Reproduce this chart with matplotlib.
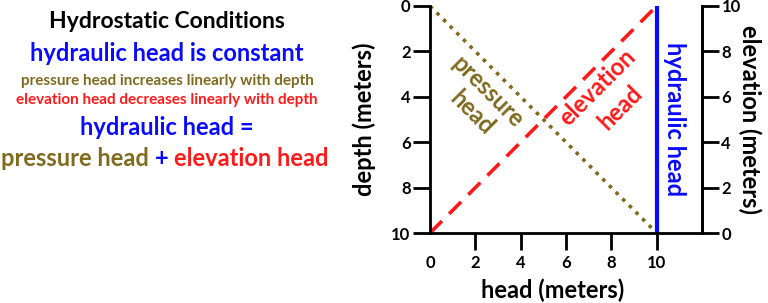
import matplotlib as mpl
mpl.use('Agg')
import matplotlib.pyplot as plt

plt.rcParams['font.family'] = ['Lato', 'DejaVu Sans']
plt.rcParams['font.weight'] = 'bold'

# data
depth = [0, 10]
pressure_head = [0, 10]      # at depth 0 and 10
elevation_head = [10, 0]     # at depth 0 and 10
hydraulic_head = [10, 10]
xtick_vals = [0, 2, 4, 6, 8, 10]
ytick_vals = [0, 2, 4, 6, 8, 10]

olive = '#7f6a1e'
red = '#ff1a1a'
blue = '#0a0aff'

fig = plt.figure(figsize=(7.68, 3.03), dpi=100)
ax = fig.add_axes([430 / 768, 70 / 303, 272 / 768, 227 / 303])

ax.plot(pressure_head, depth, color=olive, lw=2.6, linestyle=(0, (1, 1.6)))
# dashed line drawn from the bottom so the pattern starts at 0,10
ax.plot(elevation_head[::-1], depth[::-1], color=red, lw=2.6, linestyle=(0, (4.7, 2.8)))
ax.plot(hydraulic_head, depth, color=blue, lw=3)

ax.set_xlim(0, 12)
ax.set_ylim(10, 0)
ax.set_xticks(xtick_vals)
ax.set_yticks(ytick_vals)
ax.spines['top'].set_visible(False)
for s in ['left', 'bottom', 'right']:
    ax.spines[s].set_linewidth(2)
ax.tick_params(axis='both', width=2, length=12, labelsize=12, direction='out')
ax.tick_params(axis='x', pad=4)
ax.tick_params(axis='y', pad=2)
ax.xaxis.get_major_ticks()[0].tick1line.set_visible(False)
for lab in ax.get_xticklabels() + ax.get_yticklabels():
    lab.set_fontweight('bold')

ax2 = ax.twinx()
ax2.set_ylim(0, 10)
ax2.set_yticks(ytick_vals)
ax2.spines['top'].set_visible(False)
ax2.spines['right'].set_linewidth(2)
ax2.tick_params(axis='y', width=2, length=12, labelsize=12, pad=2)
for lab in ax2.get_yticklabels():
    lab.set_fontweight('bold')

ax.set_xlabel('head (meters)', fontsize=17, fontweight='bold')
ax.xaxis.set_label_coords(0.45, -0.2)
ax.set_ylabel('depth (meters)', fontsize=17, fontweight='bold')
ax.yaxis.set_label_coords(-0.2, 0.5)
ax2.set_ylabel('elevation (meters)', fontsize=17, fontweight='bold', rotation=270)
ax2.yaxis.set_label_coords(1.22, 0.5)

# labels on the lines
ax.text(2.56, 3.79, 'pressure', color=olive, fontsize=17, fontweight='bold',
        rotation=-45, ha='center', va='center')
ax.text(1.85, 4.7, 'head', color=olive, fontsize=17, fontweight='bold',
        rotation=-45, ha='center', va='center')
ax.text(7.37, 3.57, 'elevation', color=red, fontsize=17, fontweight='bold',
        rotation=45, ha='center', va='center')
ax.text(8.38, 4.45, 'head', color=red, fontsize=17, fontweight='bold',
        rotation=45, ha='center', va='center')
ax.text(10.8, 5.0, 'hydraulic head', color=blue, fontsize=17, fontweight='bold',
        rotation=-90, ha='center', va='center')

# left text block
cx = 167 / 768
fig.text(cx, 1 - 22 / 303, 'Hydrostatic Conditions', color='black', fontsize=16.5,
         fontweight='bold', ha='center', va='center')
fig.text(cx, 1 - 54 / 303, 'hydraulic head is constant', color=blue, fontsize=17,
         fontweight='bold', ha='center', va='center')
fig.text(cx, 1 - 81 / 303, 'pressure head increases linearly with depth', color=olive,
         fontsize=11, fontweight='bold', ha='center', va='center')
fig.text(cx, 1 - 100 / 303, 'elevation head decreases linearly with depth', color=red,
         fontsize=11, fontweight='bold', ha='center', va='center')
fig.text(cx, 1 - 127 / 303, 'hydraulic head =', color=blue, fontsize=17,
         fontweight='bold', ha='center', va='center')
t1 = fig.text(1 / 768, 1 - 158 / 303, 'pressure head ', color=olive, fontsize=17,
              fontweight='bold', ha='left', va='center')
fig.canvas.draw()
bb = t1.get_window_extent()
t2 = fig.text(bb.x1 / 768, 1 - 158 / 303, '+ ', color=blue, fontsize=17,
              fontweight='bold', ha='left', va='center')
bb2 = t2.get_window_extent()
fig.text(bb2.x1 / 768, 1 - 158 / 303, 'elevation head', color=red, fontsize=17,
         fontweight='bold', ha='left', va='center')

plt.savefig('out.png', dpi=100)
plt.close()
